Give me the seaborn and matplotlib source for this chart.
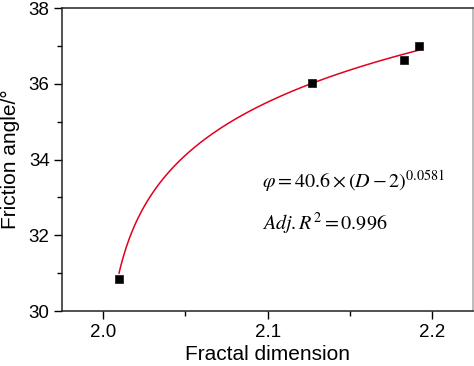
import numpy as np
import pandas as pd
import matplotlib
matplotlib.use("Agg")
import matplotlib.pyplot as plt
import seaborn as sns

# measured points
fractal_dim = [2.0096, 2.1271, 2.1827, 2.1921]
friction = [30.86, 36.02, 36.63, 37.00]

# fit: phi = A*(D-2)^b
fit_a = 40.6
fit_b = 0.0581

sns.set_theme(style="ticks")
plt.rcParams['font.family'] = ['Liberation Sans', 'DejaVu Sans']
plt.rcParams['mathtext.fontset'] = 'stix'

df = pd.DataFrame({'D': fractal_dim, 'phi': friction})
d_fit = np.linspace(min(fractal_dim), max(fractal_dim), 200)
fit = pd.DataFrame({'D': d_fit, 'phi': fit_a * (d_fit - 2) ** fit_b})

fig = plt.figure(figsize=(4.74, 3.66), dpi=100)
ax = fig.add_axes([0.131, 0.150, 0.867, 0.828])

sns.lineplot(x='D', y='phi', data=fit, color='#e3001b', linewidth=1.1, ax=ax)
sns.scatterplot(x='D', y='phi', data=df, marker='s', color='black', s=30,
                edgecolor='black', zorder=3, ax=ax)

ax.set_xlim(1.975, 2.225)
ax.set_ylim(30, 38)
ax.set_xticks([2.0, 2.1, 2.2])
ax.set_xticks([2.05, 2.15], minor=True)
ax.set_yticks([30, 32, 34, 36, 38])
ax.set_yticks([31, 33, 35, 37], minor=True)
ax.tick_params(which='major', direction='out', length=6, width=1, pad=3,
               labelsize=13.5, colors='black')
ax.tick_params(which='minor', direction='out', length=3.5, width=1, colors='black')
ax.set_xlabel("Fractal dimension", fontsize=15, labelpad=3, color='black')
ax.set_ylabel("Friction angle/°", fontsize=15, labelpad=6, color='black')

for s in ax.spines.values():
    s.set_color('#222222')
    s.set_linewidth(1.1)
ax.spines['right'].set_color('#aaaaaa')

ax.text(2.0966, 33.4, r'$\varphi = 40.6\times(D-2)^{0.0581}$', fontsize=14.5,
        color='black', va='center')
ax.text(2.0966, 32.3, r'$Adj.R^{2} = 0.996$', fontsize=14.5,
        color='black', va='center')

fig.savefig("out.png", dpi=100)
